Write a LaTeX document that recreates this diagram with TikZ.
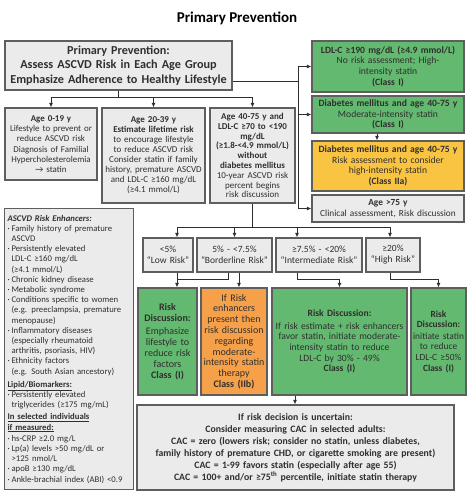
\documentclass[tikz,border=0pt]{standalone}
\usepackage{fontspec}
\setmainfont{Carlito}
\usetikzlibrary{arrows.meta}
\definecolor{gfill}{HTML}{63B96F}
\definecolor{yfill}{HTML}{FAC443}
\definecolor{ofill}{HTML}{F6A14A}
\definecolor{bfill}{HTML}{EBEBEB}
\definecolor{bord}{HTML}{5E5E5E}
\definecolor{lnc}{HTML}{2E2E2E}
\definecolor{txt}{HTML}{2F2F2F}
\newcommand\fs[2]{\fontsize{#1}{#2}\selectfont}
\newcommand\myb{\makebox[4pt][l]{·}}
\newcommand\myi{\hspace*{4pt}}
\newcommand\bx[7]{%
 \pgfmathsetmacro\cx{(#3+#5)/2}%
 \pgfmathsetmacro\cy{(#4+#6)/2}%
 \pgfmathsetmacro\ww{#5-#3}%
 \pgfmathsetmacro\hh{#6-#4}%
 \pgfmathsetmacro\tw{#5-#3-4}%
 \node[#2, minimum width=\ww pt, minimum height=\hh pt, text width=\tw pt] (#1) at (\cx,\cy) {#7};}
\begin{document}
\begin{tikzpicture}[x=1pt,y=-1pt,
  box/.style={draw=bord, line width=1.1pt, align=center, inner xsep=2pt, inner ysep=1pt, text=txt, font=\fs{9}{10}},
  gray/.style={box, fill=bfill},
  grn/.style={box, fill=gfill},
  yel/.style={box, fill=yfill},
  org/.style={box, fill=ofill},
  ln/.style={draw=lnc, line width=0.9pt},
  arr/.style={ln, -{Latex[length=4.5pt,width=4pt]}}]
\useasboundingbox (0,0) rectangle (474,498);
\fill[white] (0,0) rectangle (474,498);
\node[font=\bfseries\fs{15}{17}, text=black] (title) at (237,18) {Primary Prevention};
\bx{main}{gray, font=\bfseries\fs{12.2}{14.5}}{5}{41}{232}{90}{Primary Prevention:\\Assess ASCVD Risk in Each Age Group\\Emphasize Adherence to Healthy Lifestyle}
\bx{a019}{gray, font=\fs{8.9}{10}}{5}{108}{97}{180}{\textbf{Age 0-19 y}\\Lifestyle to prevent or\\reduce ASCVD risk\\[1pt]Diagnosis of Familial\\Hypercholesterolemia\\→ statin}
\bx{a2039}{gray, font=\fs{9}{10}}{102}{108}{205}{203}{\textbf{Age 20-39 y}\\\textbf{Estimate lifetime risk}\\to encourage lifestyle\\to reduce ASCVD risk\\Consider statin if family\\history, premature ASCVD\\and LDL-C ≥160 mg/dL\\(≥4.1 mmol/L)}
\bx{a4075}{gray, font=\fs{9}{9.8}}{210}{108}{295}{203}{\textbf{Age 40-75 y and}\\\textbf{LDL-C ≥70 to <190}\\\textbf{mg/dL}\\\textbf{(≥1.8-<4.9 mmol/L)}\\\textbf{without}\\\textbf{diabetes mellitus}\\10-year ASCVD risk\\percent begins\\risk discussion}
\bx{ldl}{grn, font=\fs{9.6}{10.7}}{312}{41}{464}{92}{\textbf{LDL-C ≥190 mg/dL (≥4.9 mmol/L)}\\No risk assessment; High-\\intensity statin\\\textbf{(Class I)}}
\bx{diab}{grn, font=\fs{9.6}{10.2}}{312}{96}{464}{133}{\textbf{Diabetes mellitus and age 40-75 y}\\Moderate-intensity statin\\\textbf{(Class I)}}
\bx{yelb}{yel, font=\fs{9.6}{10.7}}{312}{141}{464}{191}{\textbf{Diabetes mellitus and age 40-75 y}\\Risk assessment to consider\\high-intensity statin\\\textbf{(Class IIa)}}
\bx{a75}{gray, font=\fs{9.3}{10.8}}{312}{195}{464}{222}{\textbf{Age >75 y}\\Clinical assessment, Risk discussion}
\node[gray, font=\fs{8.7}{10.2}, align=left, anchor=north west, inner xsep=3pt, text width=123pt, minimum height=281pt] (enh) at (4,208) {%
\textbf{\textit{ASCVD Risk Enhancers:}}\\
\myb Family history of premature\\
\myi ASCVD\\
\myb Persistently elevated\\
\myi LDL-C ≥160 mg/dL\\
\myi (≥4.1 mmol/L)\\
\myb Chronic kidney disease\\
\myb Metabolic syndrome\\
\myb Conditions specific to women\\
\myi (e.g. preeclampsia, premature\\
\myi menopause)\\
\myb Inflammatory diseases\\
\myi (especially rheumatoid\\
\myi arthritis, psoriasis, HIV)\\
\myb Ethnicity factors\\
\myi (e.g. South Asian ancestory)\\[3pt]
\textbf{\underline{Lipid/Biomarkers:}}\\
\myb Persistently elevated\\
\myi triglycerides (≥175 mg/mL)\\[2pt]
\textbf{\underline{In selected individuals}}\\
\textbf{\underline{if measured:}}\\[1pt]
\myb hs-CRP ≥2.0 mg/L\\
\myb Lp(a) levels >50 mg/dL or\\
\myi >125 nmol/L\\
\myb apoB ≥130 mg/dL\\
\myb Ankle-brachial index (ABI) <0.9};
\bx{r1}{gray, font=\fs{9.5}{11}, inner xsep=0.5pt}{143}{238}{193}{272}{<5\%\\“Low Risk”}
\bx{r2}{gray, font=\fs{9.5}{11}, inner xsep=0.5pt}{197}{238}{272}{272}{5\% - <7.5\%\\“Borderline Risk”}
\bx{r3}{gray, font=\fs{9.5}{11}, inner xsep=0.5pt}{276}{238}{362}{272}{≥7.5\% - <20\%\\“Intermediate Risk”}
\bx{r4}{gray, font=\fs{9.5}{11}, inner xsep=0.5pt}{366}{238}{420}{272}{≥20\%\\“High Risk”}
\bx{g1}{grn, font=\fs{10}{10.8}}{138}{288}{197}{395}{\textbf{Risk}\\\textbf{Discussion:}\\[3pt]Emphasize\\lifestyle to\\reduce risk\\factors\\\textbf{Class (I)}}
\bx{o1}{org, font=\fs{10}{10.8}}{201}{288}{267}{395}{If Risk\\enhancers\\present then\\risk discussion\\regarding\\moderate-\\intensity statin\\therapy\\\textbf{Class (IIb)}}
\bx{g2}{grn, font=\fs{9.6}{10.6}, inner xsep=1pt}{272}{288}{407}{395}{\textbf{Risk Discussion:}\\[2pt]If risk estimate + risk enhancers\\favor statin, initiate moderate-\\intensity statin to reduce\\LDL-C by 30\% - 49\%\\\textbf{Class (I)}}
\bx{g3}{grn, font=\fs{9.4}{10.6}}{411}{288}{466}{395}{\textbf{Risk}\\\textbf{Discussion:}\\[1pt]initiate statin\\to reduce\\LDL-C ≥50\%\\\textbf{Class (I)}}
\bx{cac}{gray, font=\bfseries\fs{9.8}{12}}{137}{405}{454}{490}{If risk decision is uncertain:\\Consider measuring CAC in selected adults:\\CAC = zero (lowers risk; consider no statin, unless diabetes,\\family history of premature CHD, or cigarette smoking are present)\\CAC = 1-99 favors statin (especially after age 55)\\CAC = 100+ and/or ≥75\textsuperscript{th} percentile, initiate statin therapy}
% top fan-out
\coordinate (j1) at (118.5,97);
\draw[ln] (main.south) -- (j1);
\draw[ln] (a019.north |- j1) -- (a4075.north |- j1);
\foreach \n in {a019,a2039,a4075} \draw[arr] (\n.north |- j1) -- (\n.north);
% right trunk
\coordinate (tm) at (298,81);
\coordinate (ttop) at (298,66.5);
\coordinate (tbot) at (298,208.5);
\draw[ln] (main.east |- tm) -- (tm);
\draw[ln] (ttop) -- (tbot);
\draw[arr] (ttop) -- (ldl.west);
\draw[arr] (ttop |- diab.west) -- (diab.west);
\draw[arr] (tbot) -- (a75.west);
\draw[arr] ([xshift=-11pt]diab.south) -- ([xshift=-11pt]yelb.north);
% middle fan-out
\coordinate (j2) at (252.5,227);
\coordinate (hL) at (177,227);
\coordinate (hR) at (390,227);
\coordinate (h3) at (297,227);
\draw[ln] (a4075.south) -- (j2);
\draw[ln] (hL) -- (hR);
\draw[arr] (hL) -- (hL |- r1.north);
\draw[arr] (r2.north |- hL) -- (r2.north);
\draw[arr] (h3) -- (h3 |- r3.north);
\draw[arr] (hR) -- (hR |- r4.north);
% lower connections
\coordinate (c2) at (228,279);
\coordinate (c3) at (239,279);
\coordinate (c4) at (297,279);
\coordinate (c6) at (390,279);
\draw[arr] (hL |- r1.south) -- (hL |- g1.north);
\draw[ln] (c2 |- r2.south) -- (c2) -- (hL |- c2);
\draw[arr] (c3 |- r2.south) -- (c3 |- o1.north);
\draw[arr] (c4 |- r3.south) -- (c4) -- (g2.north |- c4) -- (g2.north);
\draw[arr] (c6 |- r4.south) -- (c6) -- (g3.north |- c6) -- (g3.north);
\coordinate (c7) at (295,400);
\draw[arr] (c7 |- g2.south) -- (c7 |- cac.north);
\end{tikzpicture}
\end{document}
